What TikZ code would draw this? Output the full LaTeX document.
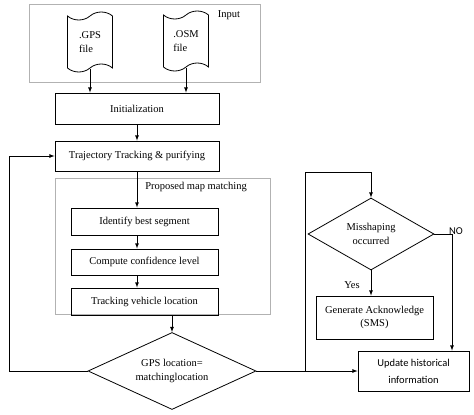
\documentclass[tikz,border=0pt]{standalone}
\usepackage{fontspec}
\setmainfont{Liberation Serif}
\newfontfamily\calibri{Carlito}
\usetikzlibrary{shapes.geometric,shapes.symbols,arrows}

\begin{document}
\begin{tikzpicture}[x=1pt,y=-1pt,>=latex,line width=0.8pt,
    font=\fontsize{10.5}{13.5}\selectfont,
    box/.style={draw, rectangle, inner sep=0pt, align=center},
    group/.style={draw=gray!60, line width=0.7pt},
    doc/.style={draw, tape, tape bend height=8pt, minimum width=45pt, minimum height=60pt, inner sep=2pt, align=left},
    decide/.style={draw, diamond, inner sep=0pt, align=center}]
    \useasboundingbox (0,0) rectangle (474,415);
    % input files
    \draw[group] (29,4) rectangle (260,82);
    \node (inlabel) at (229,15) {Input};
    \node[doc] (gps) at (90,42) {.GPS\\file};
    \node[doc] (osm) at (186,41) {.OSM\\file};
    \node[box, minimum width=164pt, minimum height=31pt] (init) at (137,108.5) {Initialization};
    \node[box, minimum width=164pt, minimum height=30pt] (traj) at (137,156) {Trajectory Tracking \& purifying};
    % map matching group
    \draw[group] (55,178) rectangle (270,314);
    \node (mmlabel) at (196,187) {Proposed map matching};
    \node[box, line width=1pt, minimum width=147pt, minimum height=27pt] (ident) at (144.5,221.5) {Identify best segment};
    \node[box, line width=1pt, minimum width=147pt, minimum height=26pt] (comp) at (144.5,262) {Compute confidence level};
    \node[box, line width=1pt, minimum width=147pt, minimum height=27pt] (track) at (144.5,301.5) {Tracking vehicle location};
    \node[decide, aspect=2.2, minimum width=168pt, minimum height=77pt] (match) at (172,371) {GPS location=\\matchinglocation};
    % right branch
    \node[decide, aspect=1.75, minimum width=126pt, minimum height=72pt] (mis) at (371,234) {Misshaping\\occurred};
    \node[box, minimum width=117pt, minimum height=43pt] (gen) at (374.5,317.5) {Generate Acknowledge\\(SMS)};
    \node[box, minimum width=111pt, minimum height=40pt, font=\calibri\fontsize{10.5}{17}\selectfont] (upd) at (413.5,371) {Update historical\\information};
    \node (yes) at (352,285) {Yes};
    \node[font=\calibri\fontsize{10.5}{12}\selectfont] (nolabel) at (456,231) {NO};
    \coordinate (split) at (305,371);
    \coordinate (turn) at (305,172);
    \coordinate (nocorner) at (452,234);
    % connectors
    \draw[->] (gps.south) -- (gps.south |- init.north);
    \draw[->] (osm.south) -- (osm.south |- init.north);
    \draw[->] (init) -- (traj);
    \draw[->] (traj) -- (traj |- ident.north);
    \draw[->] (ident.south -| traj) -- (comp.north -| traj);
    \draw[->] (comp.south -| traj) -- (track.north -| traj);
    \draw[->] (track.south -| match) -- (match.north);
    \draw[->] (match.west) -- ++(-78,0) |- (traj.west);
    \draw[->] (match.east) -- (upd.west);
    \draw[->] (split) -- (turn) -| (mis.north);
    \draw[->] (mis.south) -- (mis.south |- gen.north);
    \draw[->] (mis.east) -- (nocorner) -- (nocorner |- upd.north);
\end{tikzpicture}
\end{document}
